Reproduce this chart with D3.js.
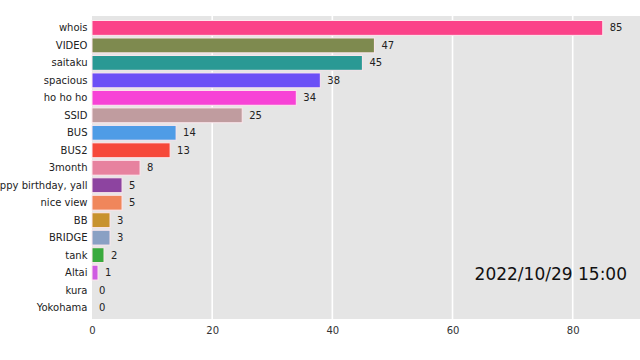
<!DOCTYPE html>
<html><head><meta charset="utf-8">
<script src="https://cdn.jsdelivr.net/npm/d3@7"></script>
<style>body{margin:0;background:#fff;}svg{display:block;font-family:"DejaVu Sans",sans-serif;}</style>
</head><body>
<svg id="c" width="640" height="360"></svg>
<script>
const categories = ["whois","VIDEO","saitaku","spacious","ho ho ho","SSID","BUS","BUS2","3month","happy birthday, yall","nice view","BB","BRIDGE","tank","Altai","kura","Yokohama"];
const values = [85,47,45,38,34,25,14,13,8,5,5,3,3,2,1,0,0];
const colors = ["#fb4289","#7e8a4f","#2a9994","#6c4ff6","#f742d6","#c09c9f","#4f9ce6","#f6483a","#e7829f","#8d44a0","#f0865b","#c8932f","#8aa0c4","#3aaa3e","#cf5ce2","#999","#999"];
const xTicks = [0,20,40,60,80];
const dateLabel = "2022/10/29 15:00";

const svg = d3.select("#c");
const L = 92, R = 640, T = 16, B = 319;
const FS = 10;
const x = d3.scaleLinear().domain([0, 91.2]).range([L, R]);
const y = d3.scaleBand().domain(categories).range([20.5, 315]).paddingInner(0.15);

svg.append("rect").attr("x", L).attr("y", T).attr("width", R - L).attr("height", B - T).attr("fill", "#e5e5e5");

svg.append("g").selectAll("line").data(xTicks.filter(d => d > 0)).join("line")
  .attr("x1", d => x(d)).attr("x2", d => x(d)).attr("y1", T).attr("y2", B)
  .attr("stroke", "#fff").attr("stroke-width", 1.6);

const xa = svg.append("g").attr("transform", `translate(0,${B})`)
  .call(d3.axisBottom(x).tickValues(xTicks).tickSize(0).tickPadding(8));
xa.select(".domain").remove();
xa.selectAll("text").attr("font-size", FS).attr("fill", "#333").attr("font-family", "DejaVu Sans");

svg.append("g").selectAll("rect").data(categories).join("rect")
  .attr("x", x(0)).attr("y", d => y(d))
  .attr("width", (d, i) => x(values[i]) - x(0)).attr("height", y.bandwidth())
  .attr("fill", (d, i) => colors[i])
  .attr("stroke", "#fde8ee").attr("stroke-width", (d, i) => values[i] > 0 ? 1 : 0);

svg.append("g").selectAll("text").data(categories).join("text")
  .attr("x", L - 4.5).attr("y", d => y(d) + y.bandwidth() / 2).attr("dy", "0.35em")
  .attr("text-anchor", "end").attr("font-size", FS).attr("fill", "#222").text(d => d);

svg.append("g").selectAll("text").data(categories).join("text")
  .attr("x", (d, i) => x(values[i]) + 7).attr("y", d => y(d) + y.bandwidth() / 2).attr("dy", "0.35em")
  .attr("font-size", FS).attr("fill", "#222").text((d, i) => values[i]);

svg.append("text").attr("x", 627).attr("y", 280).attr("text-anchor", "end")
  .attr("font-size", 17).attr("fill", "#111").text(dateLabel);
</script>
</body></html>
